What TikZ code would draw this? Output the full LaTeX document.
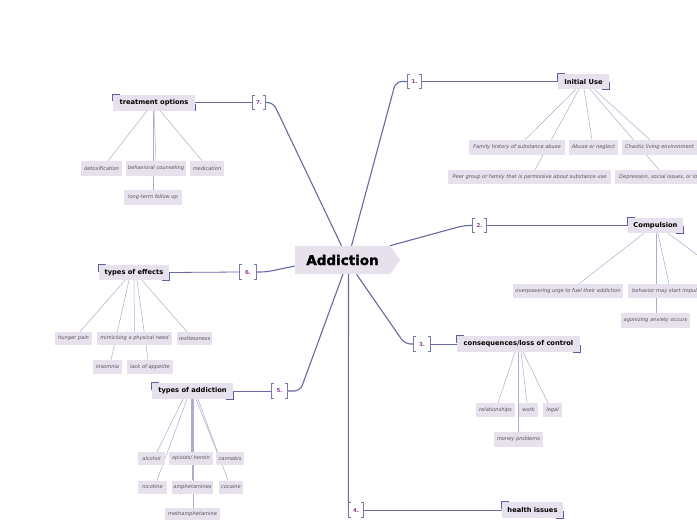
\documentclass[tikz,border=0pt]{standalone}
\usepackage{fontspec}
\setmainfont{DejaVu Sans}
\newfontfamily\heavyfont[BoldFeatures={FakeBold=1.6}]{DejaVu Sans}
\usetikzlibrary{backgrounds}
\definecolor{boxfill}{RGB}{230,225,236}
\definecolor{mainln}{RGB}{104,104,164}
\definecolor{subln}{RGB}{172,172,206}
\definecolor{cornerc}{RGB}{96,96,160}
\definecolor{brkc}{RGB}{120,120,175}
\definecolor{numc}{RGB}{140,70,140}
\definecolor{subtxt}{RGB}{85,85,85}
\tikzset{
  cornerln/.style={draw=cornerc, line width=1.5pt},
  brkln/.style={draw=brkc, line width=0.8pt},
  rootbox/.style={fill=boxfill, minimum width=95pt, minimum height=28pt, inner sep=0pt,
    font=\heavyfont\fontsize{13.5}{15}\selectfont\bfseries,
    append after command={\pgfextra{\fill[boxfill] (\tikzlastnode.north east) -- ([xshift=10pt]\tikzlastnode.east) -- (\tikzlastnode.south east) -- cycle;}}},
  topic/.style={fill=boxfill, minimum height=15pt, inner sep=0pt,
    font=\fontsize{6.7}{7.5}\selectfont\bfseries,
    append after command={\pgfextra{
      \draw[cornerln] ([yshift=-7pt]\tikzlastnode.north west) -- (\tikzlastnode.north west) -- ([xshift=7pt]\tikzlastnode.north west);
      \draw[cornerln] ([yshift=7pt]\tikzlastnode.south east) -- (\tikzlastnode.south east) -- ([xshift=-7pt]\tikzlastnode.south east);}}},
  sub/.style={fill=boxfill, minimum height=14pt, inner sep=0pt, text=subtxt,
    font=\fontsize{5.1}{6}\selectfont\itshape},
  numbox/.style={minimum height=14pt, inner sep=0pt, text=numc,
    font=\fontsize{5.5}{6}\selectfont\bfseries,
    append after command={\pgfextra{
      \draw[brkln] ([xshift=2.5pt]\tikzlastnode.north west) -- (\tikzlastnode.north west) -- (\tikzlastnode.south west) -- ([xshift=2.5pt]\tikzlastnode.south west);
      \draw[brkln] ([xshift=-2.5pt]\tikzlastnode.north east) -- (\tikzlastnode.north east) -- (\tikzlastnode.south east) -- ([xshift=-2.5pt]\tikzlastnode.south east);}}},
  mainline/.style={draw=mainln, line width=1.1pt, rounded corners=6pt},
  linkline/.style={draw=mainln, line width=0.8pt},
  subline/.style={draw=subln, line width=0.5pt}
}
\begin{document}
\begin{tikzpicture}[x=1pt,y=-1pt]
\useasboundingbox (0,0) rectangle (697,520);
\clip (0,0) rectangle (697,520);

% root
\node[rootbox] (root) at (342.5,260) {Addiction};

% topics
\node[topic, minimum width=51pt] (ip) at (583.5,81.5) {Initial Use};
\node[topic, minimum width=55pt] (comp) at (655.5,225.5) {Compulsion};
\node[topic, minimum width=123pt, minimum height=16pt] (cons) at (518.5,344) {consequences/loss of control};
\node[topic, minimum width=61pt, minimum height=16pt] (health) at (532.5,510) {health issues};
\node[topic, minimum width=82pt, minimum height=16pt] (treat) at (154,102.5) {treatment options};
\node[topic, minimum width=70pt] (toe) at (134,272.5) {types of effects};
\node[topic, minimum width=81pt, minimum height=16pt] (toa) at (192.5,391) {types of addiction};

% numbers
\node[numbox, minimum width=13pt] (n1) at (414.5,81.5) {1.};
\node[numbox, minimum width=13pt] (n2) at (479.5,225.5) {2.};
\node[numbox, minimum width=16pt] (n3) at (422,344) {3.};
\node[numbox, minimum width=15pt] (n4) at (356,510) {4.};
\node[numbox, minimum width=15pt] (n5) at (279.5,391) {5.};
\node[numbox, minimum width=16pt] (n6) at (248,272) {6.};
\node[numbox, minimum width=12pt] (n7) at (259,102.5) {7.};

% Initial Use children
\node[sub, minimum width=96pt, minimum height=15pt] (a1) at (517,147.5) {Family history of substance abuse};
\node[sub, minimum width=49pt, minimum height=15pt] (a2) at (593.5,147.5) {Abuse or neglect};
\node[sub, minimum width=75pt, minimum height=15pt] (a3) at (659.5,147.5) {Chaotic living environment};
\node[sub, minimum width=163pt] (a4) at (529.5,177) {Peer group or family that is permissive about substance use};
\node[sub, anchor=west, inner xsep=4pt] (a5) at (615,177) {Depression, social issues, or loneliness};

% Compulsion children
\node[sub, minimum width=110pt] (b1) at (568,291) {overpowering urge to fuel their addiction};
\node[sub, anchor=west, inner xsep=4pt] (b2) at (628,291) {behavior may start impulsive and become compulsive};
\node[sub, minimum width=69pt, minimum height=15pt] (b3) at (655.5,320.5) {agonizing anxiety occurs};
\coordinate (b4) at (720,272);

% consequences children
\node[sub, minimum width=39pt] (c1) at (495.5,410) {relationships};
\node[sub, minimum width=19pt] (c2) at (528.5,410) {work};
\node[sub, minimum width=19pt] (c3) at (552.5,410) {legal};
\node[sub, minimum width=49pt, minimum height=15pt] (c4) at (518.5,439.5) {money problems};

% treatment children
\node[sub, minimum width=41pt, minimum height=15pt] (t1) at (101.5,168.5) {detoxification};
\node[sub, minimum width=60pt, minimum height=15pt] (t2) at (156,168.5) {behavioral counseling};
\node[sub, minimum width=34pt, minimum height=15pt] (t3) at (207,168.5) {medication};
\node[sub, minimum width=58pt, minimum height=15pt] (t4) at (153,197.5) {long-term follow up};

% effects children
\node[sub, minimum width=37pt, minimum height=13pt] (e1) at (73.5,338.5) {hunger pain};
\node[sub, minimum width=75pt, minimum height=13pt] (e2) at (134.5,338.5) {mimicking a physical need};
\node[sub, minimum width=35pt, minimum height=13pt] (e3) at (194.5,338.5) {restlessness};
\node[sub, minimum width=29pt] (e4) at (107.5,367) {insomnia};
\node[sub, minimum width=46pt] (e5) at (150,367) {lack of appetite};

% addiction children
\node[sub, minimum width=27pt, minimum height=13pt] (d1) at (151.5,458.5) {alcohol};
\node[sub, minimum width=44pt, minimum height=13pt] (d2) at (191,458.5) {opioids/ heroin};
\node[sub, minimum width=28pt, minimum height=13pt] (d3) at (230,458.5) {cannabis};
\node[sub, minimum width=29pt, minimum height=13pt] (d4) at (152.5,487) {nicotine};
\node[sub, minimum width=41pt, minimum height=13pt] (d5) at (192.5,487) {amphetamines};
\node[sub, minimum width=24pt, minimum height=13pt] (d6) at (231,487) {cocaine};
\node[sub, minimum width=55pt, minimum height=13pt] (d7) at (192.5,514.5) {methamphetamine};

\begin{scope}[on background layer]
% main branches
\draw[mainline] (n1.west) -- ++(-12,0) -- ([xshift=9pt]root.north);
\draw[mainline] (n2.west) -- ++(-9,0) -- ([xshift=-0.5pt]root.north east);
\draw[mainline] (n3.west) -- ++(-9,0) -- ([xshift=14pt]root.south);
\draw[mainline] (n4.west) -- ([xshift=6pt]root.south);
\draw[mainline] (n5.east) -- ++(13,0) -- ([xshift=0.5pt]root.south);
\draw[mainline] (n6.east) -- ++(10,0) -- ([yshift=-6pt]root.west);
\draw[mainline] (n7.east) -- ++(8,0) -- ([xshift=-1pt]root.north);
% links
\draw[linkline] (n1.east) -- (ip.west);
\draw[linkline] (n2.east) -- (comp.west);
\draw[linkline] (n3.east) -- (cons.west);
\draw[linkline] (n4.east) -- (health.west);
\draw[linkline] (n5.west) -- (toa.east);
\draw[linkline] (n6.west) -- (toe.east);
\draw[linkline] (n7.west) -- (treat.east);
% Initial Use
\draw[subline] ([xshift=-7.5pt]ip.south) -- ([xshift=8pt]a1.north);
\draw[subline] ([xshift=-4.5pt]ip.south) -- ([xshift=5.5pt]a4.north);
\draw[subline] ([xshift=0.5pt]ip.south) -- ([xshift=-1.5pt]a2.north);
\draw[subline] ([xshift=6.5pt]ip.south) -- ([xshift=44pt]a5.north west);
\draw[subline] ([xshift=10.5pt]ip.south) -- ([xshift=-9.5pt]a3.north);
% Compulsion
\draw[subline] ([xshift=-11.5pt]comp.south) -- ([xshift=11pt]b1.north);
\draw[subline] ([xshift=0.5pt]comp.south) -- ([xshift=0.5pt]b3.north);
\draw[subline] ([xshift=2.5pt]comp.south) -- ([xshift=41pt]b2.north west);
\draw[subline] ([xshift=12.5pt]comp.south) -- (b4);
% consequences
\draw[subline] ([xshift=-3.5pt]cons.south) -- ([xshift=2.5pt]c1.north);
\draw[subline] (cons.south) -- (c4.north);
\draw[subline] ([xshift=2.5pt]cons.south) -- ([xshift=-1.5pt]c2.north);
\draw[subline] ([xshift=4.5pt]cons.south) -- ([xshift=-4.5pt]c3.north);
% treatment
\draw[subline] ([xshift=-7pt]treat.south) -- ([xshift=6.5pt]t1.north);
\draw[subline] ([xshift=-1pt]treat.south) -- (t4.north);
\draw[subline] (treat.south) -- (t2.north);
\draw[subline] ([xshift=6pt]treat.south) -- ([xshift=-5pt]t3.north);
% effects
\draw[subline] ([xshift=-9pt]toe.south) -- ([xshift=6.5pt]e1.north);
\draw[subline] ([xshift=-5pt]toe.south) -- ([xshift=3.5pt]e4.north);
\draw[subline] (toe.south) -- (e2.north);
\draw[subline] ([xshift=3pt]toe.south) -- ([xshift=-2pt]e5.north);
\draw[subline] ([xshift=8pt]toe.south) -- ([xshift=-7.5pt]e3.north);
% addiction types
\draw[subline] ([xshift=-9.5pt]toa.south) -- ([xshift=5.5pt]d1.north);
\draw[subline] ([xshift=-5.5pt]toa.south) -- ([xshift=4.5pt]d4.north);
\draw[subline] ([xshift=-1.5pt]toa.south) -- (d2.north);
\draw[subline] (toa.south) -- (d5.north);
\draw[subline] ([xshift=0.5pt]toa.south) -- ([xshift=0.5pt]d7.north);
\draw[subline] ([xshift=3.5pt]toa.south) -- ([xshift=-13pt]d3.north);
\draw[subline] ([xshift=5.5pt]toa.south) -- ([xshift=-3pt]d6.north);
\end{scope}
\end{tikzpicture}
\end{document}
